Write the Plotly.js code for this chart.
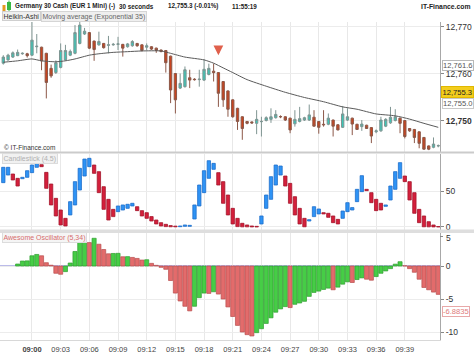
<!DOCTYPE html>
<html>
<head>
<meta charset="utf-8">
<script src="https://cdn.plot.ly/plotly-3.0.1.min.js"></script>
<style>html,body{margin:0;padding:0;background:#fff;}#chart{width:474px;height:355px;}</style>
</head>
<body>
<div id="chart"></div>
<script>
// ---- data ----
const barStart = '08:57:00';
const barSeconds = 30;
const haOpen = [12762.3,12763.0,12763.6,12763.9,12764.3,12764.3,12764.0,12765.8,12765.7,12764.4,
12761.2,12760.3,12761.4,12763.0,12764.0,12764.4,12766.5,12768.5,12768.8,12767.0,
12766.2,12766.5,12766.1,12766.2,12766.3,12766.3,12765.8,12766.0,12766.5,12766.2,
12765.7,12765.8,12765.5,12765.1,12765.0,12763.8,12760.1,12757.0,12757.3,12759.2,
12758.9,12758.8,12758.7,12759.9,12760.6,12760.3,12758.4,12756.4,12754.5,12752.7,
12750.9,12749.9,12749.8,12749.5,12749.85,12750.1,12750.35,12750.7,12750.95,12750.9,
12750.6,12749.4,12749.9,12750.2,12750.2,12750.8,12749.9,12749.3,12749.3,12750.2,
12749.2,12748.65,12750.2,12750.6,12749.3,12748.8,12749.1,12748.6,12747.7,12747.9,
12748.9,12749.6,12750.1,12750.6,12750.1,12748.4,12748.2,12747.7,12746.5,12744.7,
12744.4,12744.7];
const haHigh = [12764.0,12764.3,12764.8,12765.2,12764.6,12764.5,12771.5,12768.5,12765.8,12764.5,
12762.0,12762.9,12766.5,12766.2,12765.2,12770.4,12771.2,12769.8,12768.9,12767.1,
12769.0,12766.6,12768.1,12766.6,12767.9,12766.4,12766.6,12767.2,12766.6,12766.3,
12766.5,12765.9,12765.6,12765.2,12765.1,12763.9,12760.2,12760.1,12761.6,12760.9,
12759.1,12760.9,12763.1,12762.2,12762.2,12760.4,12758.5,12756.5,12754.6,12752.8,
12751.0,12750.0,12749.9,12752.3,12750.9,12751.0,12752.7,12752.3,12751.2,12751.0,
12750.7,12752.3,12753.0,12750.9,12753.5,12752.3,12750.0,12752.3,12751.6,12750.3,
12749.3,12753.2,12752.7,12750.7,12749.4,12750.2,12749.2,12748.7,12748.2,12750.9,
12750.6,12753.0,12752.5,12750.7,12750.2,12748.5,12748.3,12747.8,12746.6,12744.8,
12746.5,12745.0];
const haLow = [12762.0,12762.8,12763.4,12763.8,12764.1,12763.5,12763.8,12764.4,12760.8,12754.8,
12759.2,12760.0,12761.2,12762.8,12763.8,12764.2,12766.3,12768.3,12765.3,12762.8,
12766.0,12765.4,12764.4,12766.0,12765.1,12763.7,12765.6,12765.8,12765.8,12764.8,
12765.1,12765.1,12764.5,12764.6,12760.3,12753.8,12751.6,12756.8,12757.1,12757.0,
12758.6,12757.3,12758.5,12759.7,12758.4,12753.0,12753.0,12750.9,12750.7,12748.1,
12746.0,12749.3,12749.4,12747.2,12746.7,12749.9,12749.6,12750.5,12750.6,12750.0,
12747.4,12748.8,12749.7,12750.0,12750.0,12748.8,12747.3,12748.8,12749.1,12746.7,
12748.0,12748.5,12750.0,12747.0,12748.1,12747.9,12748.3,12745.3,12747.4,12747.7,
12748.7,12749.4,12749.9,12747.4,12746.3,12747.7,12745.3,12744.2,12743.9,12743.8,
12744.2,12744.4];
const haClose = [12763.6,12764.0,12764.5,12764.6,12764.4,12763.9,12767.2,12765.9,12762.8,12758.2,
12759.6,12762.4,12765.0,12765.0,12764.8,12768.8,12770.4,12769.1,12765.5,12765.2,
12766.9,12765.6,12766.2,12766.3,12766.4,12765.5,12766.4,12766.9,12766.0,12765.0,
12766.0,12765.3,12765.0,12764.8,12762.4,12756.6,12754.5,12758.0,12760.9,12758.7,
12758.8,12758.9,12761.0,12761.2,12760.3,12755.9,12754.5,12752.5,12750.9,12749.9,
12748.4,12749.5,12749.6,12750.35,12749.9,12750.7,12750.9,12751.4,12750.9,12750.2,
12748.1,12750.35,12750.5,12750.7,12751.3,12748.9,12748.65,12749.2,12750.6,12748.9,
12748.1,12751.5,12750.9,12749.35,12748.2,12749.35,12748.4,12746.8,12747.9,12750.2,
12750.35,12750.8,12750.9,12749.5,12746.7,12747.9,12746.5,12745.25,12744.0,12744.0,
12745.1,12744.75];
// EMA(35) read at selected bars
const emaBars = [0,3,6,8,11,13,15,18,20,23,26,29,33,35,38,42,44,46,48,51,55,59,63,67,71,74,78,82,85,88,91];
const emaValues = [12762.5,12762.8,12763.2,12762.8,12762.6,12762.8,12763.2,12764.0,12764.3,12764.6,12764.75,12764.9,12764.9,12764.4,12763.6,12763.0,12762.3,12761.3,12760.3,12758.8,12757.4,12756.1,12755.0,12754.1,12753.0,12752.5,12751.5,12751.1,12750.4,12749.5,12748.65];
// Candlestick (4,5) indicator: open / close
const csOpen = [61.6,72.2,73.6,67.6,67.1,69.0,75.5,82.9,86.6,75.9,
59.7,39.8,23.6,12.0,16.7,30.6,51.4,70.8,83.8,86.1,
76.9,56.0,38.4,24.5,21.3,23.6,25.9,29.2,28.2,22.7,
19.9,14.4,9.7,6.0,3.7,1.9,1.2,0.4,0.9,0.9,
11.1,29.2,47.7,67.6,80.1,75.5,63.0,44.4,25.9,12.0,
5.1,2.8,1.4,0.9,4.2,25.9,38.4,58.3,72.2,70.8,
60.6,42.1,25.9,12.0,8.3,14.4,18.1,19.9,19.0,15.3,
10.6,12.0,21.3,23.6,35.2,49.1,52.3,47.7,38.4,32.9,
28.7,37.5,52.3,67.6,70.8,63.0,47.7,24.5,15.3,7.4,
2.8,0.6];
const csClose = [82.9,82.9,65.3,56.9,69.0,78.2,86.1,89.4,83.8,53.7,
30.6,15.3,2.8,1.4,35.2,63.0,81.5,94.4,95.4,74.5,
47.7,24.5,9.7,14.4,29.2,30.6,31.5,32.9,22.7,15.3,
12.0,8.3,4.2,1.4,0.5,0.3,0.2,1.4,2.8,2.3,
30.6,58.3,78.2,92.1,88.4,58.3,32.9,16.7,4.2,0.5,
0.2,0.2,0.1,0.0,15.3,44.4,69.9,86.1,84.7,56.9,
32.9,16.7,4.2,0.3,10.2,28.2,25.0,18.1,13.4,6.0,
4.2,22.2,33.8,26.9,52.3,71.3,50.5,33.8,22.7,23.6,
30.6,56.9,76.9,89.4,63.0,37.5,19.0,6.0,0.3,0.2,
0.1,0.0];
// Awesome Oscillator (5,34)
const aoValues = [null,null,null,0.3,0.75,0.78,1.55,1.75,1.55,0.5,
0.12,-1.1,-1.25,-0.85,0.45,2.2,3.6,3.65,3.55,4.2,
3.3,2.5,1.85,1.9,1.92,1.4,1.42,1.3,1.15,0.9,
0.95,0.4,0.1,-0.2,-0.5,-2.2,-4.1,-5.3,-6.1,-6.8,
-6.1,-4.8,-4.1,-4.15,-3.9,-4.25,-5.0,-6.2,-7.65,-9.0,
-10.0,-10.4,-10.6,-10.1,-9.5,-8.7,-7.85,-7.0,-6.5,-6.15,
-6.3,-5.8,-5.6,-5.35,-4.6,-4.0,-3.8,-3.55,-3.35,-3.6,
-3.2,-2.75,-2.4,-2.5,-2.05,-1.8,-2.0,-2.15,-1.6,-1.1,
-0.75,-0.4,0.28,0.65,0.03,-0.4,-0.95,-2.0,-3.25,-3.6,
-3.95,-4.3];
const timeTicks = ['09:00','09:03','09:06','09:09','09:12','09:15','09:18','09:21','09:24','09:27','09:30','09:33','09:36','09:39'];
const priceTicks = [12750, 12760, 12770];
const priceTickText = ['<b>12,750</b>', '12,760', '12,770'];

// ---- helpers ----
const DAY = '2024-01-02 ';
function pad(n){return (n<10?'0':'')+n;}
function toSec(hms){const p=hms.split(':').map(Number);return p[0]*3600+p[1]*60+(p[2]||0);}
function stamp(sec){const h=Math.floor(sec/3600),m=Math.floor((sec%3600)/60),s=sec%60;
  const si=Math.floor(s), fr=s-si; return DAY+pad(h)+':'+pad(m)+':'+pad(si)+(fr>0?('.'+Math.round(fr*10)):'');}
const t0 = toSec(barStart);
const times = haOpen.map((_,i)=>stamp(t0+i*barSeconds));
const PW=440, PH=318, TOP=22;
const px = x => x/PW;
const py = y => (TOP+PH - y)/PH;
const FONT = 'Liberation Sans, Arial, sans-serif';

// ---- traces ----
const traces = [];
traces.push({type:'candlestick', x:times, open:haOpen, high:haHigh, low:haLow, close:haClose,
  xaxis:'x', yaxis:'y', whiskerwidth:0, hoverinfo:'skip',
  increasing:{fillcolor:'#3cc5b6', line:{color:'#7f9592', width:1}},
  decreasing:{fillcolor:'#c8441f', line:{color:'#8c5848', width:1}}});
traces.push({type:'scatter', mode:'lines', x:emaBars.map(i=>times[i]), y:emaValues,
  xaxis:'x', yaxis:'y', line:{color:'#5a5a5a', width:1, shape:'spline', smoothing:0.6}, hoverinfo:'skip'});
traces.push({type:'bar', x:times, base:csOpen, y:csClose.map((c,i)=>c-csOpen[i]),
  xaxis:'x', yaxis:'y2', width:barSeconds*1000*0.7, hoverinfo:'skip',
  marker:{color:csClose.map((c,i)=>c>=csOpen[i]?'#2e93f5':'#d41f3b'),
          line:{color:csClose.map((c,i)=>c>=csOpen[i]?'#1e6fcc':'#a5162c'), width:0.8}}});
const aoCol = aoValues.map((v,i)=>(i===0||aoValues[i-1]===null||v>=aoValues[i-1]));
traces.push({type:'bar', x:times, y:aoValues, xaxis:'x', yaxis:'y3', width:barSeconds*1000*0.86, hoverinfo:'skip',
  marker:{color:aoCol.map(g=>g?'#46cd46':'#e36b6b'), line:{color:aoCol.map(g=>g?'#2e9d2e':'#b84d4d'), width:0.7}}});

// ---- layout ----
const xStart = stamp(t0 - 20.7), xEnd = stamp(t0 + 2740.8);
const yAxisCommon = {side:'right', anchor:'x', showline:true, linecolor:'#a8a8a8', linewidth:1,
  ticks:'outside', ticklen:3, tickcolor:'#888', showgrid:true, gridcolor:'#ececec', zeroline:false,
  tickfont:{family:FONT, size:8.5, color:'#333'}, fixedrange:true};
const ann = [];
function label(text, xpx, ypx, opts){ann.push(Object.assign({xref:'paper', yref:'paper', x:px(xpx), y:py(ypx), text:text,
  showarrow:false, xanchor:'left', yanchor:'middle', font:{family:FONT, size:7, color:'#333'}}, opts||{}));}
const hdr = {family:FONT, size:6.3, color:'#222'};
label('<b>Germany 30 Cash (EUR 1 Mini) (-)</b>', 13, 6.5, {font:hdr});
label('<b>30 seconds</b>', 117, 6.5, {font:hdr});
label('<b>12,755.3 (-0.01%)</b>', 166, 6.5, {font:hdr});
label('<b>11:55:19</b>', 230, 6.5, {font:hdr});
label('<b>IT-Finance.com</b>', 472, 6.5, {xanchor:'right', font:{family:FONT,size:6.8,color:'#222'}});
label('Heikin-Ashi', 1.5, 16.5, {bgcolor:'#efefef', bordercolor:'#cfcfcf', borderpad:0.5, font:{family:FONT,size:7,color:'#333'}});
label('Moving average (Exponential 35)', 41, 16.5, {bgcolor:'#efefef', bordercolor:'#d5d5d5', borderpad:0.5, font:{family:FONT,size:7,color:'#666'}});
label('© IT-Finance.com', 1.5, 147.5, {font:{family:FONT,size:6.5,color:'#333'}});
label('Candlestick (4.5)', 1.5, 158, {bgcolor:'#f1f1f1', bordercolor:'#dcdcdc', borderpad:0.5, font:{family:FONT,size:7,color:'#b0b0b0'}});
label('Awesome Oscillator (5,34)', 1.5, 237.5, {bgcolor:'rgba(244,244,244,0.95)', bordercolor:'#dcdcdc', borderpad:0.5, font:{family:FONT,size:7,color:'#d76d6d'}});
// right-side value boxes
const box = {family:FONT, size:7.6, color:'#555'};
label('12,761.6', 441.5, 65.5, {bgcolor:'#ffffff', bordercolor:'#b8b8b8', borderpad:0, font:box});
label('12,755.3', 441, 92, {bgcolor:'#f3cd1d', bordercolor:'#e0b800', borderpad:0.5, font:{family:FONT,size:7.6,color:'#222'}});
label('12,755.0', 441.5, 103.5, {bgcolor:'#ffffff', bordercolor:'#c8c8c8', borderpad:0, font:box});
label('-6.8835', 442, 311.7, {bgcolor:'#ffffff', bordercolor:'#e8a8a8', borderpad:0, font:{family:FONT,size:7.6,color:'#e07a7a'}});
label('5', 444, 237.5, {font:{family:FONT,size:8.5,color:'#333'}});
// signal arrow
ann.push({xref:'x', yref:'y', x:times[45], y:12764.0, text:'', showarrow:true, arrowhead:2, arrowsize:0.75,
  arrowwidth:2.6, arrowcolor:'#e0604c', ax:0, ay:-9});

const shapes = [
  {type:'rect', xref:'paper', yref:'paper', x0:0, x1:474/PW, y0:py(153.5), y1:py(151.5), fillcolor:'#cbcbcb', line:{width:0}, layer:'above'},
  {type:'rect', xref:'paper', yref:'paper', x0:0, x1:474/PW, y0:py(233), y1:py(229.5), fillcolor:'#dedede', line:{width:0}, layer:'above'},
  {type:'line', xref:'paper', yref:'y3', x0:0, x1:1, y0:0, y1:0, line:{color:'#7676d2', width:1}, layer:'below'},
  {type:'line', xref:'paper', yref:'paper', x0:1, x1:px(443), y0:py(236.5), y1:py(236.5), line:{color:'#888', width:1}},
  // small logo icon
  {type:'rect', xref:'paper', yref:'paper', x0:px(2.5), x1:px(5.5), y0:py(11), y1:py(5), fillcolor:'#e39a22', line:{width:0}},
  {type:'rect', xref:'paper', yref:'paper', x0:px(7), x1:px(11), y0:py(10), y1:py(2), fillcolor:'#38b844', line:{width:0}},
  {type:'line', xref:'paper', yref:'paper', x0:px(9), x1:px(9), y0:py(12), y1:py(0.5), line:{color:'#38b844', width:1}}
];

const layout = {
  width:474, height:355, margin:{l:0, r:34, t:TOP, b:15, pad:0},
  paper_bgcolor:'#ffffff', plot_bgcolor:'#ffffff', showlegend:false, bargap:0, barmode:'overlay',
  font:{family:FONT, size:8, color:'#333'},
  xaxis:{type:'date', range:[xStart, xEnd], anchor:'y3', domain:[0,1], rangeslider:{visible:false},
    tickvals:timeTicks.map(t=>DAY+t+':00'), ticktext:timeTicks.map(t=>t==='09:00'?'<b>09:00</b>':t),
    showgrid:true, gridcolor:'#e8e8e8', ticks:'outside', ticklen:2, tickcolor:'rgba(0,0,0,0)', showline:true, linecolor:'#d8d8d8', zeroline:false,
    tickfont:{family:FONT, size:7.5, color:'#444'}, fixedrange:true},
  yaxis:Object.assign({}, yAxisCommon, {domain:[py(151.5), 1], range:[12743.51, 12771.06],
    tickvals:priceTicks, ticktext:priceTickText}),
  yaxis2:Object.assign({}, yAxisCommon, {domain:[py(229.5), py(153.5)], range:[-3.5, 102.1],
    tickvals:[0,50], ticktext:['0','50']}),
  yaxis3:Object.assign({}, yAxisCommon, {domain:[0, py(233)], range:[-11.21, 5.0],
    tickvals:[0,-5,-10], ticktext:['0','-5','-10']}),
  annotations:ann, shapes:shapes
};
Plotly.newPlot('chart', traces, layout, {displayModeBar:false, staticPlot:true});
</script>
</body>
</html>
